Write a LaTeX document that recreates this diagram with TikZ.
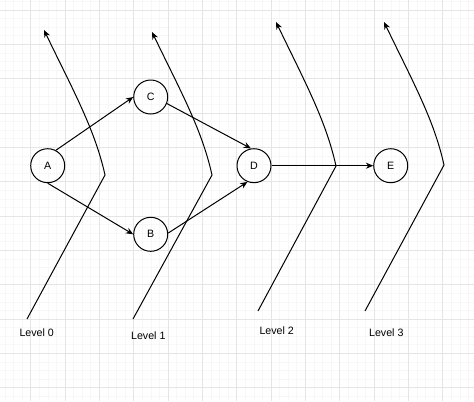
\documentclass[tikz,border=0pt]{standalone}
\usepackage{fontspec}
\setmainfont{Liberation Sans}
\usetikzlibrary{arrows.meta}
\begin{document}
\begin{tikzpicture}[x=0.75pt,y=-0.75pt,
  state/.style={circle,draw,line width=0.75pt,minimum size=25.5pt,inner sep=0pt,font=\fontsize{8}{10}\selectfont},
  edge/.style={line width=0.75pt,-{Stealth[length=5.5pt,width=4.6pt]}},
  lbl/.style={font=\fontsize{8}{10}\selectfont,inner sep=0pt},
  minor/.style={line width=0.5pt,black!3},
  major/.style={line width=0.6pt,black!10}]
\useasboundingbox (0,0) rectangle (474,401);
\fill[white] (0,0) rectangle (474,401);
\begin{scope}
\clip (0,0) rectangle (474,401);
\foreach \i in {-3,...,52} \draw[minor] ({30.7+8.5825*\i},0) -- ({30.7+8.5825*\i},401);
\foreach \j in {-9,...,37} \draw[minor] (0,{319-8.5825*\j}) -- (474,{319-8.5825*\j});
\foreach \i in {-1,...,13} \draw[major] ({30.7+34.33*\i},0) -- ({30.7+34.33*\i},401);
\foreach \j in {-3,...,9} \draw[major] (0,{319-34.33*\j}) -- (474,{319-34.33*\j});
\end{scope}

\node[state] (A) at (47.7,165.7) {A};
\node[state] (C) at (150.7,97) {C};
\node[state] (B) at (150.7,234.3) {B};
\node[state] (D) at (254,165.7) {D};
\node[state] (E) at (390.7,165.7) {E};

\draw[edge] (A.62) -- (C.west);
\draw[edge] (A.south) -- (B.west);
\draw[edge] (C.-22) -- (D.100);
\draw[edge] (B.4) -- (D.-112);
\draw[edge] (D.east) -- (E.west);

\coordinate (s0) at (27,319);  \coordinate (b0) at (105,175); \coordinate (t0) at (44,30);
\coordinate (s1) at (133,319); \coordinate (b1) at (212,175); \coordinate (t1) at (152,32);
\coordinate (s2) at (258,311); \coordinate (b2) at (336,166); \coordinate (t2) at (276,22);
\coordinate (s3) at (365,311); \coordinate (b3) at (444,165); \coordinate (t3) at (384,22);
\foreach \k in {0,1,2,3}
  \draw[edge] (s\k) -- (b\k) .. controls +(-10,-45) and +(30,62) .. (t\k);

\node[lbl] (L0) at (36.7,332.3) {Level 0};
\node[lbl] (L1) at (148.3,335.7) {Level 1};
\node[lbl] (L2) at (276.7,330.3) {Level 2};
\node[lbl] (L3) at (386.3,332.3) {Level 3};
\end{tikzpicture}
\end{document}
